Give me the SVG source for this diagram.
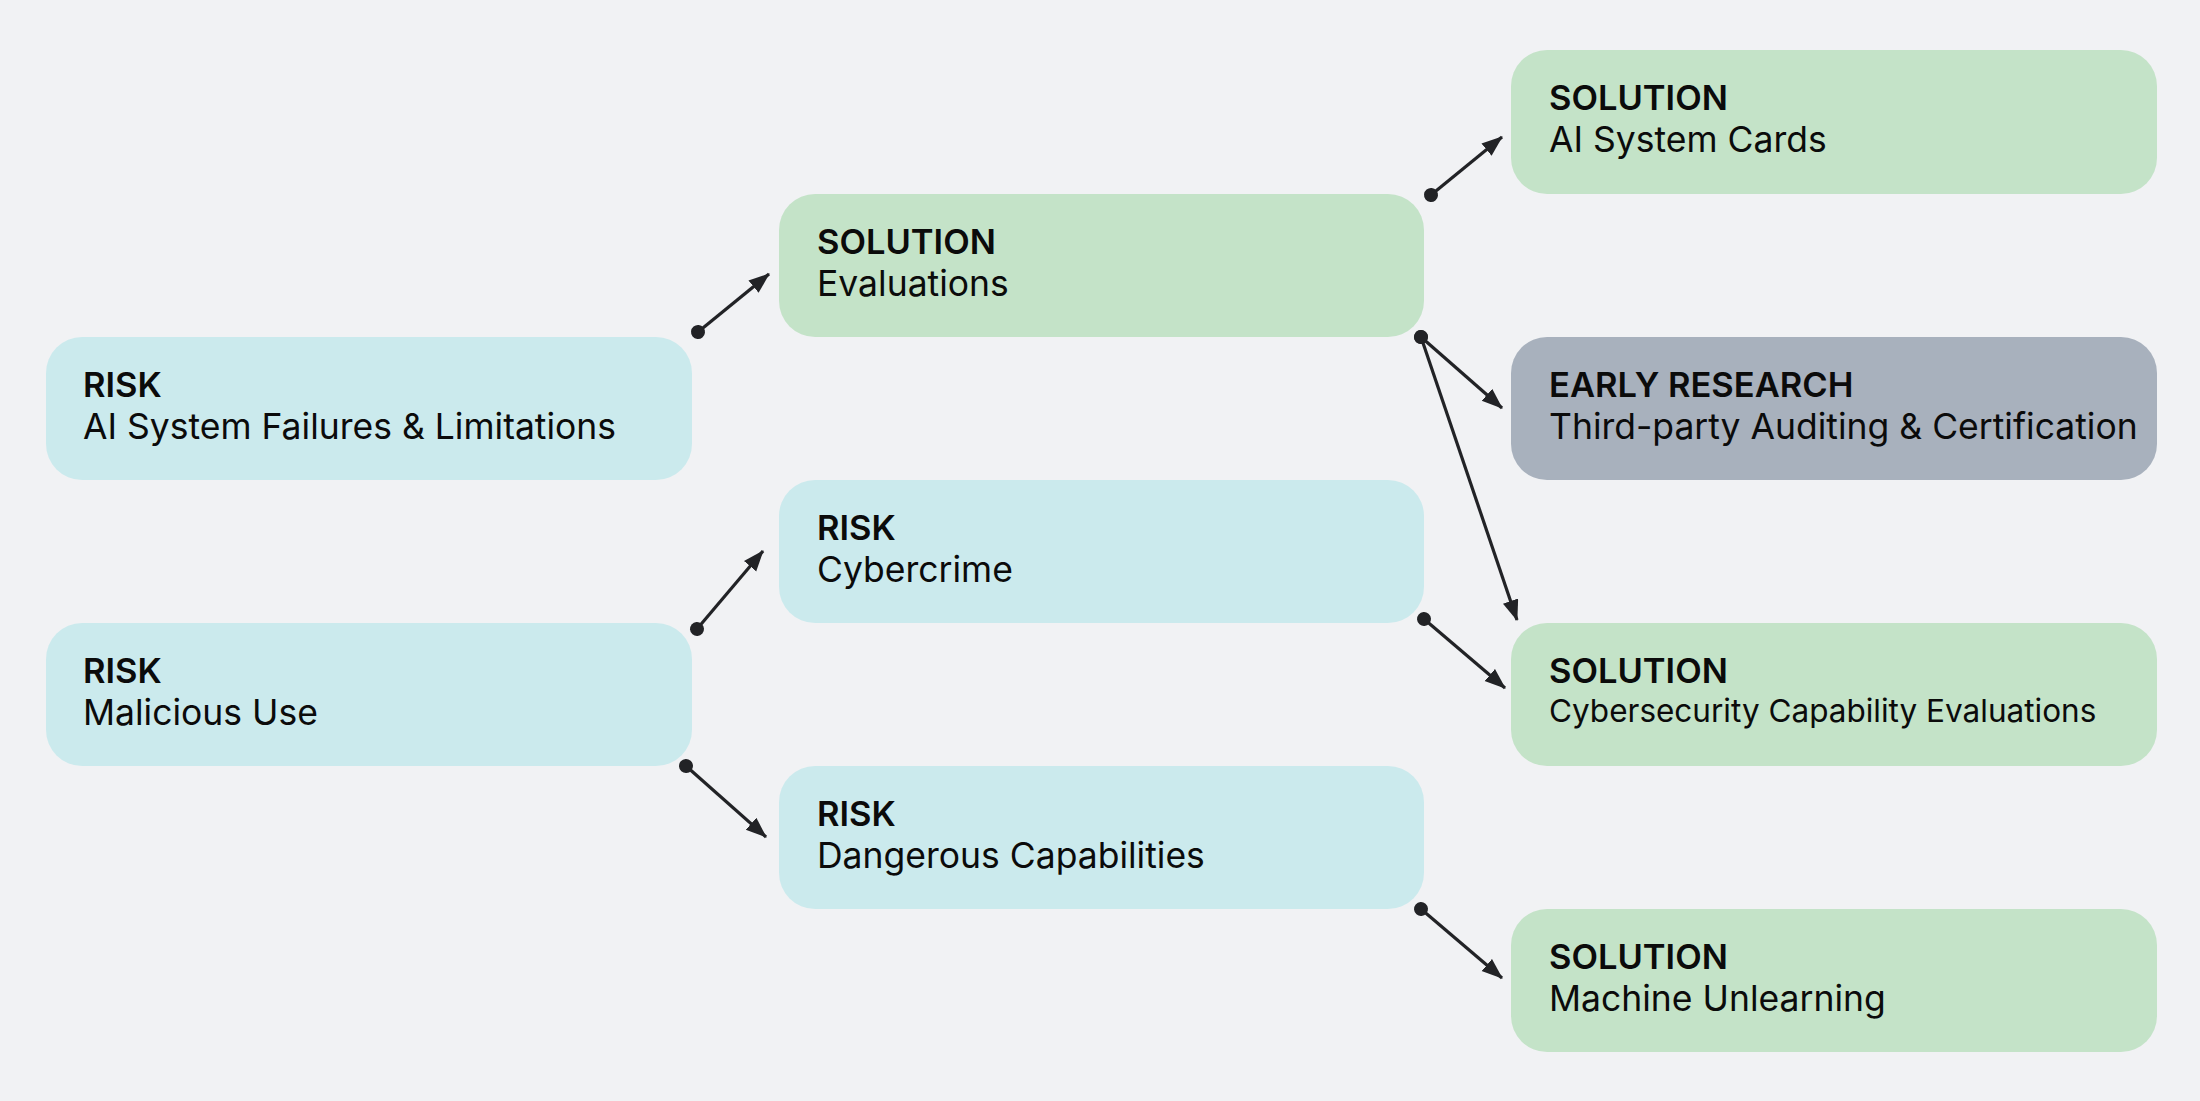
<svg xmlns="http://www.w3.org/2000/svg" width="2200" height="1101" viewBox="0 0 2200 1101">
  <defs>
    <style>
      .risk { fill: #cbeaed; }
      .sol { fill: #c4e3c8; }
      .early { fill: #a8b1bd; }
      .t { font-family: Inter, "Liberation Sans", sans-serif; font-weight: 600; font-size: 34.5px; fill: #0b0b0b; }
      .b { font-family: Inter, "Liberation Sans", sans-serif; font-weight: 400; font-size: 35.5px; fill: #0b0b0b; }
      .conn { stroke: #222326; stroke-width: 3.2; fill: none; marker-start: url(#dot); marker-end: url(#arrow); }
    </style>
    <marker id="arrow" markerUnits="userSpaceOnUse" markerWidth="22" markerHeight="18" refX="20" refY="8" orient="auto">
      <path d="M0,0 L21,8 L0,16 z" fill="#222326"/>
    </marker>
    <marker id="dot" markerUnits="userSpaceOnUse" markerWidth="16" markerHeight="16" refX="8" refY="8" orient="auto">
      <circle cx="8" cy="8" r="7" fill="#222326"/>
    </marker>
  </defs>
  <rect x="0" y="0" width="2200" height="1101" fill="#f1f2f4"/>

  <g id="connectors">
    <path class="conn" d="M698,332 L769,274"/>
    <path class="conn" d="M1431,195 L1502,137"/>
    <path class="conn" d="M1421,337 L1502,408"/>
    <path class="conn" d="M1421,337 L1517,620"/>
    <path class="conn" d="M697,629 L763,551"/>
    <path class="conn" d="M1424,619 L1505,688"/>
    <path class="conn" d="M686,766 L766,837"/>
    <path class="conn" d="M1421,909 L1502,978"/>
  </g>

  <g id="node-ai-failures">
    <rect class="risk" x="46" y="337" width="646" height="143" rx="36"/>
    <text class="t" x="83" y="397">RISK</text>
    <text class="b" x="83" y="439">AI System Failures &amp; Limitations</text>
  </g>
  <g id="node-malicious-use">
    <rect class="risk" x="46" y="623" width="646" height="143" rx="36"/>
    <text class="t" x="83" y="683">RISK</text>
    <text class="b" x="83" y="725">Malicious Use</text>
  </g>
  <g id="node-evaluations">
    <rect class="sol" x="779" y="194" width="645" height="143" rx="36"/>
    <text class="t" x="817" y="254">SOLUTION</text>
    <text class="b" x="817" y="296">Evaluations</text>
  </g>
  <g id="node-cybercrime">
    <rect class="risk" x="779" y="480" width="645" height="143" rx="36"/>
    <text class="t" x="817" y="540">RISK</text>
    <text class="b" x="817" y="582">Cybercrime</text>
  </g>
  <g id="node-dangerous">
    <rect class="risk" x="779" y="766" width="645" height="143" rx="36"/>
    <text class="t" x="817" y="826">RISK</text>
    <text class="b" x="817" y="868">Dangerous Capabilities</text>
  </g>
  <g id="node-system-cards">
    <rect class="sol" x="1511" y="50" width="646" height="144" rx="36"/>
    <text class="t" x="1549" y="110">SOLUTION</text>
    <text class="b" x="1549" y="152">AI System Cards</text>
  </g>
  <g id="node-auditing">
    <rect class="early" x="1511" y="337" width="646" height="143" rx="36"/>
    <text class="t" x="1549" y="397">EARLY RESEARCH</text>
    <text class="b" x="1549" y="439">Third-party Auditing &amp; Certification</text>
  </g>
  <g id="node-cyber-evals">
    <rect class="sol" x="1511" y="623" width="646" height="143" rx="36"/>
    <text class="t" x="1549" y="683">SOLUTION</text>
    <text class="b" x="1549" y="722" style="font-size:31.5px">Cybersecurity Capability Evaluations</text>
  </g>
  <g id="node-unlearning">
    <rect class="sol" x="1511" y="909" width="646" height="143" rx="36"/>
    <text class="t" x="1549" y="969">SOLUTION</text>
    <text class="b" x="1549" y="1011">Machine Unlearning</text>
  </g>
</svg>
